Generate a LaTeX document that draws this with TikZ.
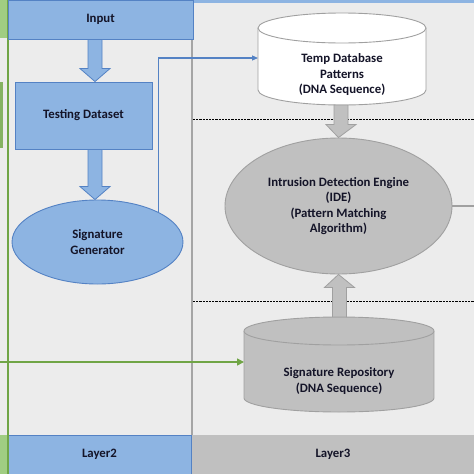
\documentclass[tikz,border=0pt]{standalone}
\usepackage{fontspec}
\setmainfont{Carlito}
\usetikzlibrary{calc,arrows.meta,shapes.geometric}
\definecolor{bg}{RGB}{236,236,236}
\definecolor{bluefill}{RGB}{141,180,226}
\definecolor{blueline}{RGB}{84,130,196}
\definecolor{greenhdr}{RGB}{160,205,130}
\definecolor{greenline}{RGB}{112,165,70}
\definecolor{grayfill}{RGB}{192,192,192}
\definecolor{grayline}{RGB}{160,160,160}
\definecolor{sepline}{RGB}{165,165,165}
\definecolor{txt}{RGB}{20,20,40}
\tikzset{
  bluebox/.style={draw=blueline, fill=bluefill, line width=0.9pt, inner sep=0pt, text=txt, align=center},
  blueell/.style={ellipse, draw=blueline, fill=bluefill, line width=0.9pt, inner sep=0pt, text=txt, align=center},
  grayell/.style={ellipse, draw=grayline, fill=grayfill, line width=0.9pt, inner sep=0pt, text=txt, align=center},
  lbl/.style={inner sep=0pt, text=txt, align=center},
  bluearr/.style={draw=blueline, fill=bluefill, line width=0.8pt},
  grayarr/.style={draw=grayline, fill=grayfill, line width=0.8pt},
  dashsep/.style={black, line width=1pt, dash pattern=on 2.2pt off 1pt},
  thinblue/.style={draw=blueline, line width=1.1pt, -{Triangle[length=6pt,width=5pt]}},
  thingreen/.style={draw=greenline, line width=1.6pt, -{Triangle[length=7pt,width=7pt]}},
}
\newcommand\vblock[3]{%
  \filldraw[#3] let \p1=(#1), \p2=(#2), \n1={ifthenelse(\y2<\y1,1,-1)*13pt} in
    (\x1-7pt,\y1) -- (\x1-7pt,\y2+\n1) -- (\x1-15pt,\y2+\n1) -- (\x2,\y2)
    -- (\x1+15pt,\y2+\n1) -- (\x1+7pt,\y2+\n1) -- (\x1+7pt,\y1) -- cycle;}
\begin{document}
\begin{tikzpicture}[x=1pt,y=-1pt, font=\bfseries\fontsize{12.8}{15.5}\selectfont]
\useasboundingbox (0,0) rectangle (474,474);
\fill[bg] (0,0) rectangle (474,474);
% left partial column
\fill[greenhdr] (0,0) rectangle (8,38);
\fill[greenline!85] (0,82) rectangle (3,148);
\fill[greenhdr] (0,435) rectangle (8,474);
% top blue strip layer3
\fill[bluefill] (193,0) rectangle (474,3);
% footers
\node[bluebox, minimum width=183pt, minimum height=39pt] (layer2) at (99.5,454.5) {Layer2};
\node[fill=grayfill, inner sep=0pt, text=txt, minimum width=282pt, minimum height=39pt] (layer3) at (333,454.5) {Layer3};
% separator lines
\draw[greenline, line width=1.3pt] (8,0) -- (8,474);
\draw[sepline, line width=1.2pt] (192,39) -- (192,435);
\draw[dashsep] (193,119) -- (474,119);
\draw[dashsep] (193,301) -- (474,301);
% header
\node[bluebox, minimum width=185pt, minimum height=39pt] (input) at (100.5,19.5) {Input};
% layer2 nodes
\node[bluebox, minimum width=137pt, minimum height=67pt] (td) at (83.5,115.5) {Testing Dataset};
\node[blueell, minimum width=171pt, minimum height=84pt] (sg) at (97.5,242) {Signature\\Generator};
\vblock{$(input.south)+(-5.5,0)$}{$(td.north)+(11.5,0)$}{bluearr}
\vblock{$(td.south)+(11.5,0)$}{$(sg.north)+(-2.5,0)$}{bluearr}
% Temp database cylinder
\fill[white] (258,28) rectangle (426,90);
\fill[white] (342,90) ellipse [x radius=84pt, y radius=15pt];
\draw[grayline, line width=0.9pt] (258,28) -- (258,90) arc[start angle=180, end angle=360, x radius=84pt, y radius=15pt] -- (426,28);
\filldraw[fill=white, draw=grayline, line width=0.9pt] (342,28) ellipse [x radius=84pt, y radius=15pt];
\node[lbl] (tdb) at (342,75) {Temp Database\\Patterns\\(DNA Sequence)};
\coordinate (tdbin) at (258,58);
\coordinate (tdbout) at (341,105);
% signature repository cylinder
\fill[grayfill] (244,331) rectangle (434,398);
\fill[grayfill] (339,398) ellipse [x radius=95pt, y radius=14pt];
\draw[grayline, line width=0.9pt] (244,331) -- (244,398) arc[start angle=180, end angle=360, x radius=95pt, y radius=14pt] -- (434,331);
\filldraw[fill=grayfill, draw=grayline, line width=0.9pt] (339,331) ellipse [x radius=95pt, y radius=14pt];
\node[lbl] (sr) at (339,381) {Signature Repository\\(DNA Sequence)};
\coordinate (srin) at (244,362);
\coordinate (srtop) at (339.5,317);
% IDE
\node[grayell, minimum width=227pt, minimum height=136pt] (ide) at (338.5,206) {Intrusion Detection Engine\\(IDE)\\(Pattern Matching\\Algorithm)};
\coordinate (rightend) at (474,206);
% connectors
\draw[thinblue] (sg.north east) |- (tdbin);
\vblock{tdbout}{ide.north}{grayarr}
\vblock{srtop}{ide.south}{grayarr}
\draw[grayline, line width=1.2pt] (ide.east) -- (rightend);
\coordinate (leftend) at (0,362);
\draw[thingreen] (leftend) -- (srin);
\end{tikzpicture}
\end{document}
